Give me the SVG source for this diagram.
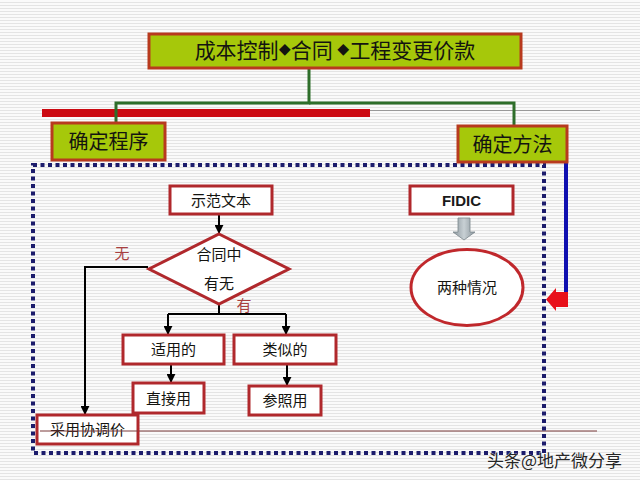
<svg xmlns="http://www.w3.org/2000/svg" width="640" height="480" viewBox="0 0 640 480">
<defs>
<pattern id="stripes" width="8" height="3" patternUnits="userSpaceOnUse">
<rect width="8" height="3" fill="#fafafa"/>
<rect y="2" width="8" height="1" fill="#e4e4e4"/>
</pattern>
<marker id="ah" viewBox="0 0 10 10" refX="9" refY="5" markerWidth="4.5" markerHeight="4.5" orient="auto" markerUnits="strokeWidth">
<path d="M0,0 L10,5 L0,10 z" fill="#000"/>
</marker>
<linearGradient id="gray" x1="0" y1="0" x2="1" y2="0">
<stop offset="0" stop-color="#8a959c"/>
<stop offset="0.5" stop-color="#c8d0d4"/>
<stop offset="1" stop-color="#8a959c"/>
</linearGradient>
</defs>
<style>
.t{font-family:"Noto Sans CJK SC","Liberation Serif",serif;fill:#141410;text-anchor:middle}
.g{fill:#a6c80a;stroke:#b83a1e;stroke-width:3}
.w{fill:#fff;stroke:#b0282c;stroke-width:3}
.c{fill:none;stroke:#000;stroke-width:2}
.gl{fill:none;stroke:#2e6e2a;stroke-width:3}
.lab{font-family:"Noto Sans CJK SC","Liberation Serif",serif;fill:#a84040;font-size:15px;text-anchor:middle}
</style>
<rect width="640" height="480" fill="url(#stripes)"/>

<g id="decor">
<rect x="42" y="109" width="328" height="8" fill="#cc0a12"/>
<line x1="370" y1="110.5" x2="600" y2="110.5" stroke="#999" stroke-width="1"/>
<line x1="40" y1="431" x2="597" y2="431" stroke="#7a3a3a" stroke-width="1"/>
<rect x="33" y="165" width="511" height="288" fill="none" stroke="#1c1c6c" stroke-width="4" stroke-dasharray="4 3.5"/>
</g>

<g id="connectors">
<polyline class="gl" points="309,68 309,103 116,103 116,123"/>
<polyline class="gl" points="309,103 514,103 514,125"/>
<line x1="566" y1="162" x2="566" y2="305" stroke="#1010b0" stroke-width="4"/>
<path d="M568,292 L556,292 L556,288 L546,299.5 L556,311 L556,307 L568,307 z" fill="#e8101a"/>
<line class="c" x1="219" y1="214" x2="219" y2="233" marker-end="url(#ah)"/>
<polyline class="c" points="148,267 85,267 85,414" marker-end="url(#ah)"/>
<polyline class="c" points="219,304 219,314" />
<line class="c" x1="168" y1="314" x2="286" y2="314" stroke-width="1.5"/>
<line class="c" x1="168" y1="314" x2="168" y2="334" marker-end="url(#ah)"/>
<line class="c" x1="286" y1="314" x2="286" y2="334" marker-end="url(#ah)"/>
<line class="c" x1="171" y1="364" x2="171" y2="382" marker-end="url(#ah)"/>
<line class="c" x1="287" y1="364" x2="287" y2="385" marker-end="url(#ah)"/>
<path d="M458,218 L470,218 L470,232 L475,232 L464,240 L453,232 L458,232 z" fill="url(#gray)" stroke="#7a858c" stroke-width="0.8"/>
<text class="lab" x="122" y="259">无</text>
<text class="lab" x="244" y="311">有</text>
</g>

<g id="n-top">
<rect class="g" x="149" y="34" width="372" height="34"/>
<text class="t" x="335" y="58" font-size="21">成本控制<tspan font-size="12" dy="-3">◆</tspan><tspan dy="3">合同 </tspan><tspan font-size="12" dy="-3">◆</tspan><tspan dy="3">工程变更价款</tspan></text>
</g>
<g id="n-proc">
<rect class="g" x="52" y="123" width="113" height="37"/>
<text class="t" x="108.5" y="149" font-size="20">确定程序</text>
</g>
<g id="n-method">
<rect class="g" x="458" y="126" width="109" height="36"/>
<text class="t" x="512.5" y="152" font-size="20">确定方法</text>
</g>
<g id="n-sample">
<rect class="w" x="170" y="186" width="102" height="28"/>
<text class="t" x="221" y="205.5" font-size="15">示范文本</text>
</g>
<g id="n-diamond">
<polygon class="w" points="219,234 289,269 219,304 149,269"/>
<text class="t" x="219" y="260" font-size="15">合同中</text>
<text class="t" x="219" y="289" font-size="15">有无</text>
</g>
<g id="n-apply">
<rect class="w" x="123" y="335" width="101" height="29"/>
<text class="t" x="173.5" y="355" font-size="15">适用的</text>
</g>
<g id="n-similar">
<rect class="w" x="234" y="335" width="102" height="29"/>
<text class="t" x="285" y="355" font-size="15">类似的</text>
</g>
<g id="n-direct">
<rect class="w" x="133" y="383" width="71" height="30"/>
<text class="t" x="168.5" y="403.5" font-size="15">直接用</text>
</g>
<g id="n-ref">
<rect class="w" x="249" y="386" width="72" height="29"/>
<text class="t" x="285" y="406" font-size="15">参照用</text>
</g>
<g id="n-coord">
<rect class="w" x="37" y="415" width="101" height="29"/>
<text class="t" x="87.5" y="435" font-size="15">采用协调价</text>
<line x1="40" y1="431" x2="138" y2="431" stroke="#7a3a3a" stroke-width="1"/>
</g>
<g id="n-fidic">
<rect class="w" x="410" y="186" width="103" height="28"/>
<text x="461.5" y="206" font-size="15" font-weight="bold" font-family="Liberation Sans, Arial, sans-serif" text-anchor="middle" fill="#1a1a1a">FIDIC</text>
</g>
<g id="n-two">
<ellipse cx="467" cy="287.5" rx="56" ry="38" fill="#fff" stroke="#c0282c" stroke-width="3"/>
<text class="t" x="467" y="293" font-size="15">两种情况</text>
</g>
<g id="watermark">
<text x="487" y="467" font-size="17" font-family="Noto Sans CJK SC, sans-serif" fill="#262626" stroke="#ffffff" stroke-width="0.5" paint-order="stroke">头条@地产微分享</text>
</g>
</svg>
